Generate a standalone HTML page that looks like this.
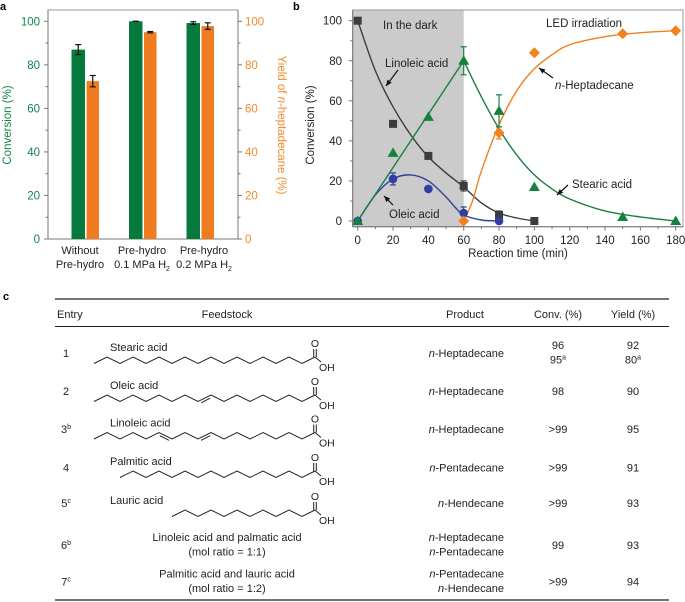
<!DOCTYPE html>
<html><head><meta charset="utf-8"><style>
html,body{margin:0;padding:0;background:#fff}
svg{display:block;font-family:"Liberation Sans",Arial,sans-serif}
</style></head><body>
<svg id="fig" width="685" height="602" viewBox="0 0 685 602"></svg>
<script>
// ---------- Panel a data ----------
const aCategories = [["Without","Pre-hydro"],["Pre-hydro","0.1 MPa H|2"],["Pre-hydro","0.2 MPa H|2"]];
const aConversion = [87, 100, 99.2];
const aConversionErr = [2.3, 0, 0.6];
const aYield = [72.5, 95, 97.8];
const aYieldErr = [2.6, 0.3, 1.5];
const aTicks = [0,20,40,60,80,100];
// ---------- Panel b data ----------
const bXTicks = [0,20,40,60,80,100,120,140,160,180];
const bYTicks = [0,20,40,60,80,100];
const linoleicT = [0,20,40,60,80,100];
const linoleicV = [100,48.5,32.5,17.5,3,0];
const linoleicErr = [0,0,0,2.5,2,0];
const stearicT = [0,20,40,60,80,100,150,180];
const stearicV = [0,34,52,80,55,17,2,0];
const stearicErr = [0,0,0,7,8,0,0,0];
const oleicT = [0,20,40,60,80];
const oleicV = [0,21,16,4,0];
const oleicErr = [0,3,0,3,0];
const heptT = [60,80,100,150,180];
const heptV = [0,44,84,93.5,95];
const heptErr = [0,3,0,0,0];
// fitted curves
const linoleicFitT = [0,10,20,30,40,50,60,70,80,90,100];
const linoleicFitV = [100,75,57,43,32,24,17,9,4,1.5,0];
const stearicRiseT = [0,60];
const stearicRiseV = [0,80];
const stearicFitT = [60,70,80,90,100,110,120,140,160,180];
const stearicFitV = [80,62,46,33,23,16,11,5,2,0];
const oleicFitT = [0,10,20,30,40,50,55,60,70,80];
const oleicFitV = [0,13,21,23,20,12,7,3,0.5,0];
const heptFitT = [60,65,70,80,90,100,110,120,140,160,180];
const heptFitV = [0,10,25,48,65,76,83,88,92,94,95];
// ---------- Table data ----------
const tEntries = ["1","2","3|b","4","5|c","6|b","7|c"];
const tConv = [["96","95|a"],["98"],[">99"],[">99"],[">99"],["99"],[">99"]];
const tYield = [["92","80|a"],["90"],["95"],["91"],["93"],["93"],["94"]];

const NS="http://www.w3.org/2000/svg";
const svg=document.getElementById('fig');
function el(tag,attrs,parent){const e=document.createElementNS(NS,tag);for(const k in attrs)e.setAttribute(k,attrs[k]);(parent||svg).appendChild(e);return e;}
function txt(x,y,s,attrs,parent){
  const t=el('text',Object.assign({x:x,y:y,'font-size':11,fill:'#222'},attrs||{}),parent);
  const parts=s.split('|');
  t.appendChild(document.createTextNode(parts[0]));
  if(parts.length>1){const ts=el('tspan',{'font-size':7,dy:parts[1]=='2'?3:-4},t);ts.textContent=parts[1];}
  return t;
}
function grp(name){const g=el('g',{});return g;}

// ================= Panel A =================
{
const G=grp('panel-a');
const l=el('text',{x:0,y:10,'font-size':11,'font-weight':'bold',fill:'#000'},G);l.textContent='a';
const X0=48,X1=238,Y0=239,Y100=21.3;
const ya=v=>Y0-(Y0-Y100)*v/100;
el('rect',{x:X0,y:10,width:X1-X0,height:Y0-10,fill:'none',stroke:'#9a9a9a','stroke-width':1},G);
el('line',{x1:X0,y1:10,x2:X0,y2:Y0,stroke:'#777'},G);
el('line',{x1:X1,y1:10,x2:X1,y2:Y0,stroke:'#777'},G);
el('line',{x1:X0,y1:Y0,x2:X1,y2:Y0,stroke:'#777'},G);
for(let v=0;v<=100;v+=10){
  const big=v%20==0;
  el('line',{x1:X0-(big?4:2.5),y1:ya(v),x2:X0,y2:ya(v),stroke:'#777'},G);
  el('line',{x1:X1,y1:ya(v),x2:X1+(big?4:2.5),y2:ya(v),stroke:'#777'},G);
}
aTicks.forEach(v=>{
  const t1=txt(40,ya(v)+4,String(v),{'text-anchor':'end',fill:'#13854a','font-size':11.5},G);
  
  const t2=txt(245,ya(v)+4,String(v),{fill:'#f08a2a','font-size':11.5},G);
  
});
const yt=el('text',{x:0,y:0,transform:'translate(11,125) rotate(-90)','text-anchor':'middle','font-size':11.5,fill:'#13854a'},G);
yt.textContent='Conversion (%)';
const yt2=el('text',{x:0,y:0,transform:'translate(278,125) rotate(90)','text-anchor':'middle','font-size':11.5,fill:'#f08a2a'},G);
yt2.innerHTML='Yield of <tspan font-style="italic">n</tspan>-heptadecane (%)';
const gx0=71.5, gstep=57.5, bw=13.5;
aCategories.forEach((c,i)=>{
  const gx=gx0+i*gstep;
  const b1=el('rect',{x:gx,y:ya(aConversion[i]),width:bw,height:Y0-ya(aConversion[i]),fill:'#067a3c'},G);
  
  const b2=el('rect',{x:gx+15,y:ya(aYield[i]),width:12.5,height:Y0-ya(aYield[i]),fill:'#ef7c21'},G);
  
  [[gx+bw/2,aConversion[i],aConversionErr[i]],[gx+15+6.25,aYield[i],aYieldErr[i]]].forEach(([cx,v,e])=>{
    el('line',{x1:cx,y1:ya(v+e),x2:cx,y2:ya(v-e),stroke:'#111','stroke-width':1.2},G);
    el('line',{x1:cx-3,y1:ya(v+e),x2:cx+3,y2:ya(v+e),stroke:'#111','stroke-width':1.2},G);
    el('line',{x1:cx-3,y1:ya(v-e),x2:cx+3,y2:ya(v-e),stroke:'#111','stroke-width':1.2},G);
  });
  const cx=80+i*62;
  const t1=txt(cx,254,c[0],{'text-anchor':'middle','font-size':11},G);
  const t2=txt(cx,268,c[1],{'text-anchor':'middle','font-size':11},G);
});
}

// ================= Panel B =================
{
const G=grp('panel-b');
const l=el('text',{x:293,y:10,'font-size':11,'font-weight':'bold',fill:'#000'},G);l.textContent='b';
const L=352.7,R=683,T=10,B=226.7;
const xb=t=>357.7+t*(675.7-357.7)/180;
const yb=v=>221-v*(221-20.7)/100;
const dark=el('rect',{x:L,y:T,width:xb(60)-L,height:B-T,fill:'#cbcbcb'},G);

el('rect',{x:L,y:T,width:R-L,height:B-T,fill:'none',stroke:'#9a9a9a'},G);
el('line',{x1:L,y1:T,x2:L,y2:B,stroke:'#777'},G);
el('line',{x1:L,y1:B,x2:R,y2:B,stroke:'#777'},G);
for(let v=0;v<=100;v+=10){el('line',{x1:L-(v%20?2.5:4),y1:yb(v),x2:L,y2:yb(v),stroke:'#777'},G);}
for(let t=0;t<=180;t+=10){el('line',{x1:xb(t),y1:B,x2:xb(t),y2:B+(t%20?2.5:4),stroke:'#777'},G);}
bYTicks.forEach(v=>{const t=txt(342,yb(v)+4,String(v),{'text-anchor':'end','font-size':11.5},G);});
bXTicks.forEach(v=>{const t=txt(xb(v),244,String(v),{'text-anchor':'middle','font-size':11.5},G);});
const yt=el('text',{x:0,y:0,transform:'translate(314,125) rotate(-90)','text-anchor':'middle','font-size':11.5,fill:'#222'},G);
yt.textContent='Conversion (%)';
const xt=txt(518,257,'Reaction time (min)',{'text-anchor':'middle','font-size':11.5},G);

function smooth(T,V,cont){
  const p=T.map((t,i)=>[xb(t),yb(V[i])]);
  let d=(cont?'':'M'+p[0][0]+','+p[0][1]);
  for(let i=0;i<p.length-1;i++){
    const p0=p[i-1]||p[i],p1=p[i],p2=p[i+1],p3=p[i+2]||p2;
    const c1=[p1[0]+(p2[0]-p0[0])/6,p1[1]+(p2[1]-p0[1])/6];
    const c2=[p2[0]-(p3[0]-p1[0])/6,p2[1]-(p3[1]-p1[1])/6];
    d+=` C${c1[0]},${c1[1]} ${c2[0]},${c2[1]} ${p2[0]},${p2[1]}`;
  }
  return d;
}
const stearicD='M'+stearicRiseT.map((t,i)=>xb(t)+','+yb(stearicRiseV[i])).join(' L')+smooth(stearicFitT,stearicFitV,true);
const series=[
 ['linoleic',smooth(linoleicFitT,linoleicFitV),linoleicT,linoleicV,linoleicErr,'#3c3c3c','sq'],
 ['oleic',smooth(oleicFitT,oleicFitV),oleicT,oleicV,oleicErr,'#2f3f9f','ci'],
 ['heptadecane',smooth(heptFitT,heptFitV),heptT,heptV,heptErr,'#f2811f','di'],
 ['stearic',stearicD,stearicT,stearicV,stearicErr,'#16813f','tr'],
];
series.forEach(([n,d,t,v,e,c,m])=>{
  const cv=el('path',{d:d,fill:'none',stroke:c,'stroke-width':1.4},G);
  
});
series.forEach(([n,d,t,v,e,c,m])=>{
  t.forEach((tt,i)=>{
    const x=xb(tt),y=yb(v[i]);
    if(e[i]>0){
      el('line',{x1:x,y1:yb(v[i]+e[i]),x2:x,y2:yb(v[i]-e[i]),stroke:c,'stroke-width':1.2},G);
      el('line',{x1:x-3,y1:yb(v[i]+e[i]),x2:x+3,y2:yb(v[i]+e[i]),stroke:c,'stroke-width':1.2},G);
      el('line',{x1:x-3,y1:yb(v[i]-e[i]),x2:x+3,y2:yb(v[i]-e[i]),stroke:c,'stroke-width':1.2},G);
    }
    let mk;
    if(m=='sq')mk=el('rect',{x:x-4,y:y-4,width:8,height:8,fill:c},G);
    else if(m=='ci')mk=el('circle',{cx:x,cy:y,r:4.3,fill:c},G);
    else if(m=='di')mk=el('polygon',{points:`${x},${y-5.5} ${x+5.5},${y} ${x},${y+5.5} ${x-5.5},${y}`,fill:c},G);
    else mk=el('polygon',{points:`${x},${y-5.5} ${x+5.5},${y+4} ${x-5.5},${y+4}`,fill:c},G);
    
  });
});
function ann(x,y,s,name,anchor){const t=el('text',{x:x,y:y,'font-size':11.5,fill:'#222','text-anchor':anchor||'start'},G);t.innerHTML=s;}
ann(383,29,'In the dark','dark-label');
ann(546,27,'LED irradiation','led-label');
ann(385,67,'Linoleic acid','linoleic-label');
ann(555,89,'<tspan font-style="italic">n</tspan>-Heptadecane','heptadecane-label');
ann(572,188,'Stearic acid','stearic-label');
ann(389,218,'Oleic acid','oleic-label');
function arrow(x1,y1,x2,y2){
  el('line',{x1:x1,y1:y1,x2:x2,y2:y2,stroke:'#111','stroke-width':1.2},G);
  const a=Math.atan2(y2-y1,x2-x1),L=6,w=2.6;
  const bx=x2-L*Math.cos(a),by=y2-L*Math.sin(a);
  el('polygon',{points:`${x2},${y2} ${bx+w*Math.sin(a)},${by-w*Math.cos(a)} ${bx-w*Math.sin(a)},${by+w*Math.cos(a)}`,fill:'#111'},G);
}
arrow(398,70,386,86);
arrow(553,78,539,68);
arrow(568,185,557,195);
arrow(393,205,384,196);
}

// ================= Panel C (table) =================
{
const G=grp('panel-c-table');
const l=el('text',{x:3,y:300,'font-size':11,'font-weight':'bold',fill:'#000'},G);l.textContent='c';
el('line',{x1:55,y1:299,x2:669,y2:299,stroke:'#222','stroke-width':1.2},G);
el('line',{x1:55,y1:326.5,x2:669,y2:326.5,stroke:'#222','stroke-width':0.9},G);
el('line',{x1:55,y1:600,x2:669,y2:600,stroke:'#222','stroke-width':1.2},G);
const fs={'font-size':11};
const hdr=[[57,'Entry','start'],[227,'Feedstock','middle'],[465,'Product','middle'],[558,'Conv. (%)','middle'],[633,'Yield (%)','middle']];
hdr.forEach(([x,s,a])=>{const t=txt(x,318,s,Object.assign({'text-anchor':a},fs),G);});
const rowY=[353,391,429,467.5,503,545,581.5];
tEntries.forEach((s,i)=>{const t=txt(66,rowY[i]+4,s,{'text-anchor':'middle','font-size':11},G);});
const products=[["|n-Heptadecane"],["|n-Heptadecane"],["|n-Heptadecane"],["|n-Pentadecane"],["|n-Hendecane"],["|n-Heptadecane","|n-Pentadecane"],["|n-Pentadecane","|n-Hendecane"]];
function lines(i,arr,x,anchor,name){
  const n=arr.length;
  arr.forEach((s,k)=>{
    const y=rowY[i]+4+(n==1?0:(k==0?-8:6.5));
    let t;
    if(s[0]=='|'){t=el('text',{x:x,y:y,'font-size':11,fill:'#222','text-anchor':anchor},G);t.innerHTML='<tspan font-style="italic">n</tspan>'+s.slice(2);}
    else t=txt(x,y,s,{'text-anchor':anchor,'font-size':11},G);
    
  });
}
products.forEach((p,i)=>lines(i,p,504,'end','product-cell'));
tConv.forEach((p,i)=>lines(i,p,558,'middle','conversion-cell'));
tYield.forEach((p,i)=>lines(i,p,633,'middle','yield-cell'));
// molecules
const acidNames=['Stearic acid','Oleic acid','Linoleic acid','Palmitic acid','Lauric acid'];
const bonds=[17,17,17,15,11];
const dbl=[[],[8],[8,11],[],[]];
const labelY=[347,385,422.5,461,500];
const CX=315,STEP=13;
acidNames.forEach((nm,i)=>{
  const t=txt(110,labelY[i]+4,nm,{'font-size':11},G);
  const top=labelY[i]+10,bot=labelY[i]+16.5;
  const pts=[];
  for(let k=0;k<=bonds[i];k++){pts.push([CX-STEP*k,k%2==0?top:bot]);}
  pts.reverse();
  const pl=el('polyline',{points:pts.map(p=>p.join(',')).join(' '),fill:'none',stroke:'#222','stroke-width':1},G);
  
  dbl[i].forEach(k=>{
    const x1=CX-STEP*k, x2=CX-STEP*(k+1);
    const y1=(k%2==0?top:bot), y2=((k+1)%2==0?top:bot);
    const dx=x2-x1,dy=y2-y1,len=Math.hypot(dx,dy);
    let nx=-dy/len*2.5, ny=dx/len*2.5;
    if(ny<0){nx=-nx;ny=-ny;}
    el('line',{x1:x1+dx*0.15+nx,y1:y1+dy*0.15+ny,x2:x1+dx*0.85+nx,y2:y1+dy*0.85+ny,stroke:'#222','stroke-width':1},G);
  });
  // carbonyl
  el('line',{x1:CX-1.3,y1:top,x2:CX-1.3,y2:top-8,stroke:'#222'},G);
  el('line',{x1:CX+1.3,y1:top,x2:CX+1.3,y2:top-8,stroke:'#222'},G);
  el('line',{x1:CX,y1:top,x2:CX+6,y2:top+5,stroke:'#222'},G);
  txt(CX,top-10,'O',{'text-anchor':'middle','font-size':10.5},G);
  txt(CX+4,top+14,'OH',{'font-size':10.5},G);
});
const mix=[["Linoleic acid and palmatic acid","(mol ratio = 1:1)"],["Palmitic acid and lauric acid","(mol ratio = 1:2)"]];
mix.forEach((m,j)=>{
  const i=5+j;
  m.forEach((s,k)=>{const t=txt(227,rowY[i]+4+(k==0?-8:6.5),s,{'text-anchor':'middle','font-size':11},G);});
});
}
</script>
</body></html>
